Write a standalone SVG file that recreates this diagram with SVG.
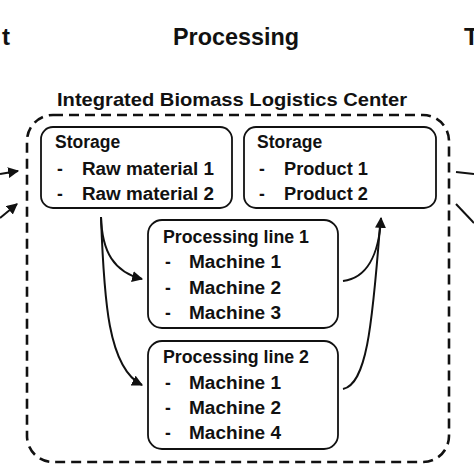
<svg xmlns="http://www.w3.org/2000/svg" width="474" height="474" viewBox="0 0 474 474">
<defs>
<marker id="ah" viewBox="0 0 10 10" refX="9" refY="5" markerWidth="11" markerHeight="11" markerUnits="userSpaceOnUse" orient="auto">
<path d="M0,0 L10,5 L0,10 z" fill="#111"/>
</marker>
</defs>
<style>
text{font-family:"Liberation Sans",Arial,sans-serif;font-weight:bold;fill:#111}
.h{font-size:24px}
.c{font-size:19px}
.t{font-size:17.5px}
.box{fill:#fff;stroke:#111;stroke-width:1.8}
.con{fill:none;stroke:#111;stroke-width:2}
</style>
<rect width="474" height="474" fill="#fff"/>
<text class="h" x="10" y="45" text-anchor="end">t</text>
<text class="h" x="236" y="45" text-anchor="middle" textLength="126" lengthAdjust="spacingAndGlyphs">Processing</text>
<text class="h" x="464" y="45">T</text>
<g id="center">
<text class="c" x="57" y="106" textLength="350" lengthAdjust="spacingAndGlyphs">Integrated Biomass Logistics Center</text>
<rect x="27" y="115" width="422" height="347" rx="26" fill="none" stroke="#111" stroke-width="2.6" stroke-dasharray="10,6"/>
</g>
<g id="storage-raw">
<rect class="box" x="41" y="127" width="191" height="81" rx="12"/>
<text class="t" x="55" y="148">Storage</text>
<text class="t" x="57" y="175">-</text>
<text class="t" x="82" y="175" textLength="132" lengthAdjust="spacingAndGlyphs">Raw material 1</text>
<text class="t" x="57" y="200">-</text>
<text class="t" x="82" y="200" textLength="132" lengthAdjust="spacingAndGlyphs">Raw material 2</text>
</g>
<g id="storage-product">
<rect class="box" x="244" y="127" width="192" height="81" rx="12"/>
<text class="t" x="257" y="148">Storage</text>
<text class="t" x="259" y="175">-</text>
<text class="t" x="284" y="175" textLength="84" lengthAdjust="spacingAndGlyphs">Product 1</text>
<text class="t" x="259" y="200">-</text>
<text class="t" x="284" y="200" textLength="84" lengthAdjust="spacingAndGlyphs">Product 2</text>
</g>
<g id="line1">
<rect class="box" x="148" y="220" width="190" height="108" rx="14"/>
<text class="t" x="163" y="243" textLength="146" lengthAdjust="spacingAndGlyphs">Processing line 1</text>
<text class="t" x="165" y="268">-</text>
<text class="t" x="189" y="268" textLength="92" lengthAdjust="spacingAndGlyphs">Machine 1</text>
<text class="t" x="165" y="294">-</text>
<text class="t" x="189" y="294" textLength="92" lengthAdjust="spacingAndGlyphs">Machine 2</text>
<text class="t" x="165" y="319">-</text>
<text class="t" x="189" y="319" textLength="92" lengthAdjust="spacingAndGlyphs">Machine 3</text>
</g>
<g id="line2">
<rect class="box" x="148" y="341" width="190" height="108" rx="14"/>
<text class="t" x="163" y="363" textLength="146" lengthAdjust="spacingAndGlyphs">Processing line 2</text>
<text class="t" x="165" y="389">-</text>
<text class="t" x="189" y="389" textLength="92" lengthAdjust="spacingAndGlyphs">Machine 1</text>
<text class="t" x="165" y="414">-</text>
<text class="t" x="189" y="414" textLength="92" lengthAdjust="spacingAndGlyphs">Machine 2</text>
<text class="t" x="165" y="439">-</text>
<text class="t" x="189" y="439" textLength="92" lengthAdjust="spacingAndGlyphs">Machine 4</text>
</g>
<g id="connectors">
<path class="con" d="M101,217 C102,252 114,272 142,279" marker-end="url(#ah)"/>
<path class="con" d="M101,217 C104,300 108,368 142,385" marker-end="url(#ah)"/>
<path class="con" d="M343,281 C366,278 379,256 381,218" marker-end="url(#ah)"/>
<path class="con" d="M343,389 C366,384 372,330 380,226"/>
<path class="con" d="M0,174 L18,171" marker-end="url(#ah)"/>
<path class="con" d="M0,218 L17,204" marker-end="url(#ah)"/>
<path class="con" d="M456,172 L474,174"/>
<path class="con" d="M456,204 L474,223"/>
</g>
</svg>
